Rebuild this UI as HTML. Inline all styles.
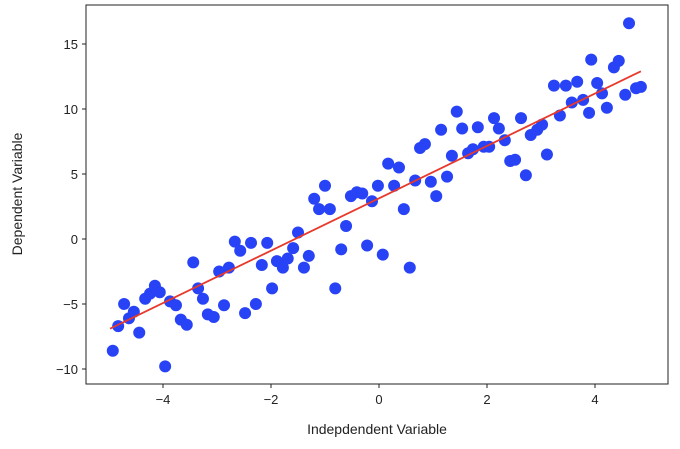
<!DOCTYPE html>
<html><head><meta charset="utf-8"><style>
body{margin:0;background:#fff;}
svg text{font-family:"Liberation Sans","DejaVu Sans",sans-serif;fill:#222;}
</style></head><body>
<svg id="chart" width="680" height="444">
<rect x="86" y="5" width="582" height="379" fill="#fff" stroke="#222" stroke-width="1"/>
<g id="ticks"></g><g id="marks"></g>
<text x="377" y="434" font-size="14" text-anchor="middle">Indepdendent Variable</text>
<text x="22" y="194" font-size="14" text-anchor="middle" transform="rotate(-90 22 194)">Dependent Variable</text>
</svg>
<script>
const xVals=[-4.93,-4.83,-4.72,-4.63,-4.54,-4.44,-4.33,-4.24,-4.15,-4.06,-3.96,-3.87,-3.76,-3.67,-3.56,-3.44,-3.35,-3.26,-3.17,-3.06,-2.96,-2.87,-2.78,-2.67,-2.57,-2.48,-2.37,-2.28,-2.17,-2.07,-1.98,-1.89,-1.78,-1.69,-1.59,-1.50,-1.39,-1.30,-1.20,-1.11,-1.00,-0.91,-0.81,-0.70,-0.61,-0.52,-0.41,-0.31,-0.22,-0.13,-0.02,0.07,0.17,0.28,0.37,0.46,0.57,0.67,0.76,0.85,0.96,1.06,1.15,1.26,1.35,1.44,1.54,1.65,1.74,1.83,1.94,2.04,2.13,2.22,2.33,2.43,2.52,2.63,2.72,2.81,2.93,3.02,3.11,3.24,3.35,3.46,3.57,3.67,3.78,3.89,3.93,4.04,4.13,4.22,4.35,4.44,4.56,4.63,4.76,4.85];
const yVals=[-8.6,-6.7,-5.0,-6.1,-5.6,-7.2,-4.6,-4.2,-3.6,-4.1,-9.8,-4.8,-5.1,-6.2,-6.6,-1.8,-3.8,-4.6,-5.8,-6.0,-2.5,-5.1,-2.2,-0.2,-0.9,-5.7,-0.3,-5.0,-2.0,-0.3,-3.8,-1.7,-2.2,-1.5,-0.7,0.5,-2.2,-1.3,3.1,2.3,4.1,2.3,-3.8,-0.8,1.0,3.3,3.6,3.5,-0.5,2.9,4.1,-1.2,5.8,4.1,5.5,2.3,-2.2,4.5,7.0,7.3,4.4,3.3,8.4,4.8,6.4,9.8,8.5,6.6,6.9,8.6,7.1,7.1,9.3,8.5,7.6,6.0,6.1,9.3,4.9,8.0,8.4,8.8,6.5,11.8,9.5,11.8,10.5,12.1,10.7,9.7,13.8,12.0,11.2,10.1,13.2,13.7,11.1,16.6,11.6,11.7];
const lineX=[-4.98,4.85];
const lineY=[-6.9,12.9];
const xTicks=[-4,-2,0,2,4];
const yTicks=[-10,-5,0,5,10,15];
const xTickLabels=["\u22124","\u22122","0","2","4"];
const yTickLabels=["\u221210","\u22125","0","5","10","15"];
const sx=v=>379+v*54, sy=v=>239-v*13.0;
const NS="http://www.w3.org/2000/svg";
const T=document.getElementById('ticks'), M=document.getElementById('marks');
function mk(tag,attrs,parent){const e=document.createElementNS(NS,tag);for(const k in attrs)e.setAttribute(k,attrs[k]);parent.appendChild(e);return e;}
xTicks.forEach((v,i)=>{
 const l=mk('line',{x1:sx(v),x2:sx(v),y1:384,y2:388,stroke:'#222'},T);
 
 
 const t=mk('text',{x:sx(v),y:404,'font-size':13,'text-anchor':'middle'},T);t.textContent=xTickLabels[i];
 
 
});
yTicks.forEach((v,i)=>{
 const l=mk('line',{x1:82,x2:86,y1:sy(v),y2:sy(v),stroke:'#222'},T);
 
 
 const t=mk('text',{x:78,y:sy(v)+5,'font-size':13,'text-anchor':'end'},T);t.textContent=yTickLabels[i];
 
 
});
xVals.forEach((x,i)=>{
 const c=mk('circle',{cx:sx(x),cy:sy(yVals[i]),r:6,fill:'#2743f5'},M);
 
 
});
const ln=mk('line',{x1:sx(lineX[0]),y1:sy(lineY[0]),x2:sx(lineX[1]),y2:sy(lineY[1]),stroke:'#e8392b','stroke-width':1.8},M);


</script>
</body></html>
